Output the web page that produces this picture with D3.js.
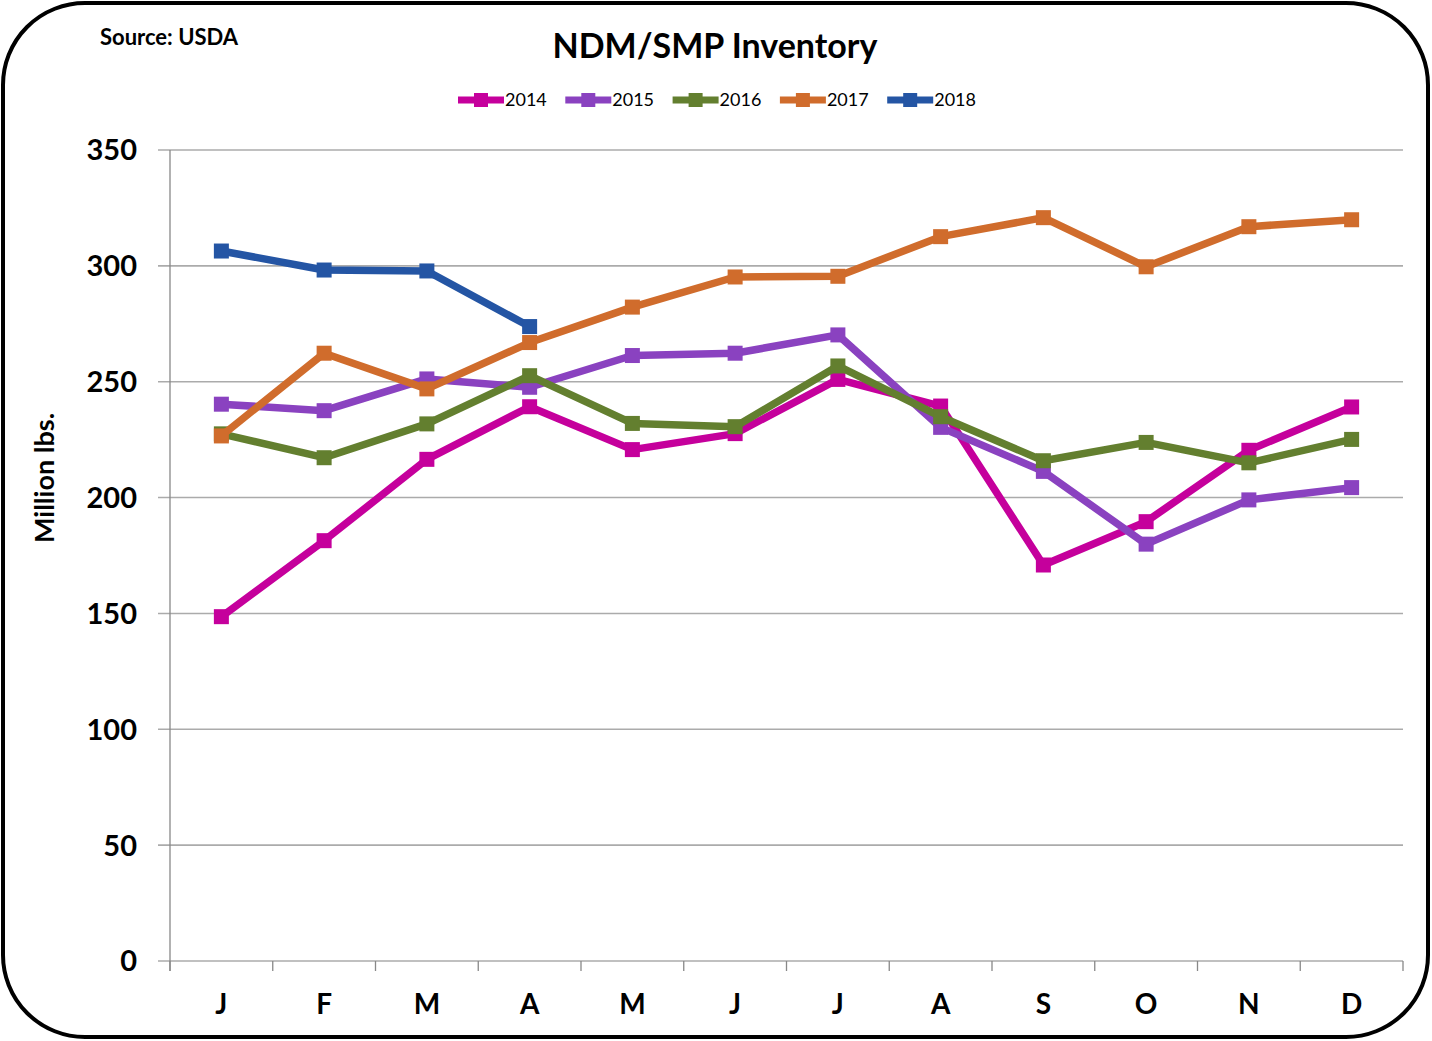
<!DOCTYPE html>
<html><head><meta charset="utf-8">
<script src="https://cdn.jsdelivr.net/npm/d3@7"></script>
<style>html,body{margin:0;padding:0;background:#fff;}svg{display:block;}</style>
</head><body>
<script>
const months = ["J","F","M","A","M","J","J","A","S","O","N","D"];
const yTicks = [0,50,100,150,200,250,300,350];
const seriesNames = ["2014","2015","2016","2017","2018"];
const v2014 = [148.6,181.4,216.5,239.2,220.7,227.6,251.0,239.5,170.9,189.6,220.4,239.1];
const v2015 = [240.3,237.5,251.2,247.6,261.3,262.3,270.2,230.3,211.3,179.9,199.0,204.3];
const v2016 = [227.5,217.2,231.8,252.6,232.0,230.6,256.8,234.9,215.9,223.8,215.0,225.1];
const v2017 = [226.6,262.3,246.9,266.9,282.2,295.2,295.5,312.6,320.8,299.6,316.9,319.9];
const v2018 = [306.4,298.2,297.8,273.8];
const colors = ["#C5009C","#8A42C0","#637F2F","#D06C2C","#2455A4"];
const allValues = [v2014,v2015,v2016,v2017,v2018];

const W=1432,H=1041;
const svg=d3.select("body").append("svg").attr("width",W).attr("height",H);
const FONT="Lato, 'Open Sans', sans-serif";

// border
svg.append("rect").attr("x",3).attr("y",3).attr("width",W-7).attr("height",H-7)
  .attr("rx",82).attr("ry",82).attr("fill","#fff").attr("stroke","#000").attr("stroke-width",4);

const L=170,R=1403,T=150,B=961;
const x=d3.scaleBand().domain(d3.range(12)).range([L,R]);
const y=d3.scaleLinear().domain([0,350]).range([B,T]);

// gridlines
svg.append("g").selectAll("line").data(yTicks).join("line")
  .attr("x1",L-12).attr("x2",R).attr("y1",d=>y(d)).attr("y2",d=>y(d))
  .attr("stroke","#ABABAB").attr("stroke-width",1.6);

// y axis line
svg.append("line").attr("x1",L).attr("x2",L).attr("y1",T).attr("y2",B+10)
  .attr("stroke","#888").attr("stroke-width",1.3);
// x ticks at category boundaries
const bounds=d3.range(13).map(i=>L+i*x.step());
svg.append("g").selectAll("line").data(bounds).join("line")
  .attr("x1",d=>d).attr("x2",d=>d).attr("y1",B).attr("y2",B+10)
  .attr("stroke","#888").attr("stroke-width",1.3);

// y tick labels
svg.append("g").selectAll("text").data(yTicks).join("text")
  .attr("x",137).attr("y",d=>y(d)).attr("dy","0.36em").attr("text-anchor","end")
  .attr("font-family",FONT).attr("font-weight","bold").attr("font-size",29).text(d=>d);

// x labels
svg.append("g").selectAll("text").data(months).join("text")
  .attr("x",(d,i)=>x(i)+x.bandwidth()/2).attr("y",1004).attr("dy","0.36em").attr("text-anchor","middle")
  .attr("font-family",FONT).attr("font-weight","bold").attr("font-size",28).text(d=>d);

// y axis title
svg.append("text").attr("transform","translate(54,478) rotate(-90)").attr("text-anchor","middle")
  .attr("font-family",FONT).attr("font-weight","bold").attr("font-size",27).text("Million lbs.");

// title
svg.append("text").attr("x",715).attr("y",46).attr("dy","0.35em").attr("text-anchor","middle")
  .attr("font-family",FONT).attr("font-weight","bold").attr("font-size",34).text("NDM/SMP Inventory");
svg.append("text").attr("x",100).attr("y",37).attr("dy","0.35em")
  .attr("font-family",FONT).attr("font-weight","bold").attr("font-size",22).text("Source: USDA");

// lines
const line=d3.line().x((d,i)=>x(i)+x.bandwidth()/2).y(d=>y(d));
const ms=15;
allValues.forEach((vals,k)=>{
  const g=svg.append("g");
  g.append("path").datum(vals).attr("d",line).attr("fill","none")
    .attr("stroke",colors[k]).attr("stroke-width",7.5).attr("stroke-linejoin","round");
  g.selectAll("rect").data(vals).join("rect")
    .attr("x",(d,i)=>x(i)+x.bandwidth()/2-ms/2).attr("y",d=>y(d)-ms/2)
    .attr("width",ms).attr("height",ms).attr("fill",colors[k]);
});

// legend
const lg=svg.append("g");
seriesNames.forEach((n,k)=>{
  const lx=458+k*107.3, ly=100;
  lg.append("line").attr("x1",lx).attr("x2",lx+46).attr("y1",ly).attr("y2",ly)
    .attr("stroke",colors[k]).attr("stroke-width",7);
  lg.append("rect").attr("x",lx+23-7).attr("y",ly-7).attr("width",14).attr("height",14).attr("fill",colors[k]);
  lg.append("text").attr("x",lx+47).attr("y",ly).attr("dy","0.36em")
    .attr("font-family",FONT).attr("font-size",18).text(n);
});
</script>
</body></html>
